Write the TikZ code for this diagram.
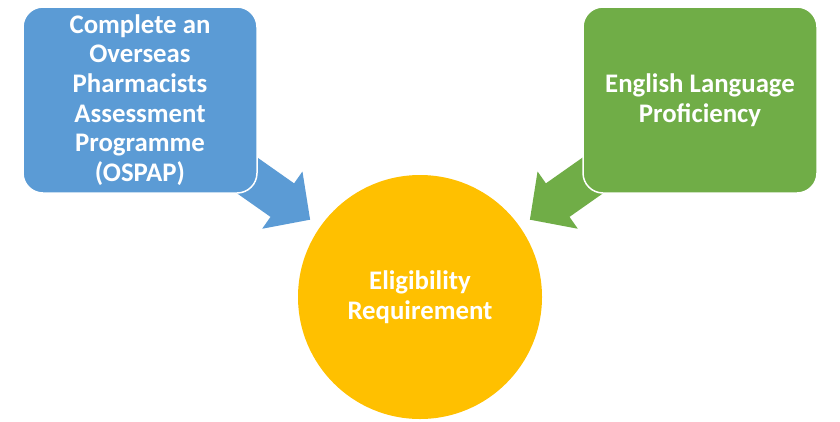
\documentclass[tikz,border=0pt]{standalone}
\usepackage{fontspec}
\setmainfont{Carlito}
\usetikzlibrary{calc,backgrounds}
\definecolor{cblue}{HTML}{5B9BD5}
\definecolor{cgreen}{HTML}{70AD47}
\definecolor{cgold}{HTML}{FFC000}
\tikzset{
  box/.style={rectangle, rounded corners=20pt, draw=white, line width=1.5pt,
    minimum width=234pt, minimum height=186pt, inner sep=0pt,
    text=white, align=center, font=\fontsize{26.8}{29.6}\selectfont\bfseries},
  hub/.style={circle, fill=cgold, minimum size=244pt, inner sep=0pt,
    text=white, align=center, font=\fontsize{26.8}{29.6}\selectfont\bfseries}
}
\newcommand\blockarrow[3]{%
  \coordinate (#1-#2-s) at ($(#1.center)!60pt!(#2.center)$);
  \coordinate (#1-#2-h) at ($(#1.center)!174pt!(#2.center)$);
  \coordinate (#1-#2-t) at ($(#1.center)!208pt!(#2.center)$);
  \fill[#3] ($(#1-#2-s)!20.5pt!90:(#2.center)$)
    -- ($(#1-#2-h)!20.5pt!90:(#2.center)$)
    -- ($(#1-#2-h)!35pt!90:(#2.center)$)
    -- (#1-#2-t)
    -- ($(#1-#2-h)!35pt!-90:(#2.center)$)
    -- ($(#1-#2-h)!20.5pt!-90:(#2.center)$)
    -- ($(#1-#2-s)!20.5pt!-90:(#2.center)$) -- cycle;}
\begin{document}
\begin{tikzpicture}[x=1pt,y=-1pt]
\useasboundingbox (0,0) rectangle (840,421);
\node[box, fill=cblue] (ospap) at (140,100) {Complete an\\Overseas\\Pharmacists\\Assessment\\Programme\\(OSPAP)};
\node[box, fill=cgreen] (eng) at (700,100) {English Language\\Proficiency};
\node[hub] (elig) at (420,297) {Eligibility\\Requirement};
\begin{scope}[on background layer]
  \fill[white] (0,0) rectangle (840,421);
  \blockarrow{ospap}{elig}{cblue}
  \blockarrow{eng}{elig}{cgreen}
\end{scope}
\end{tikzpicture}
\end{document}
